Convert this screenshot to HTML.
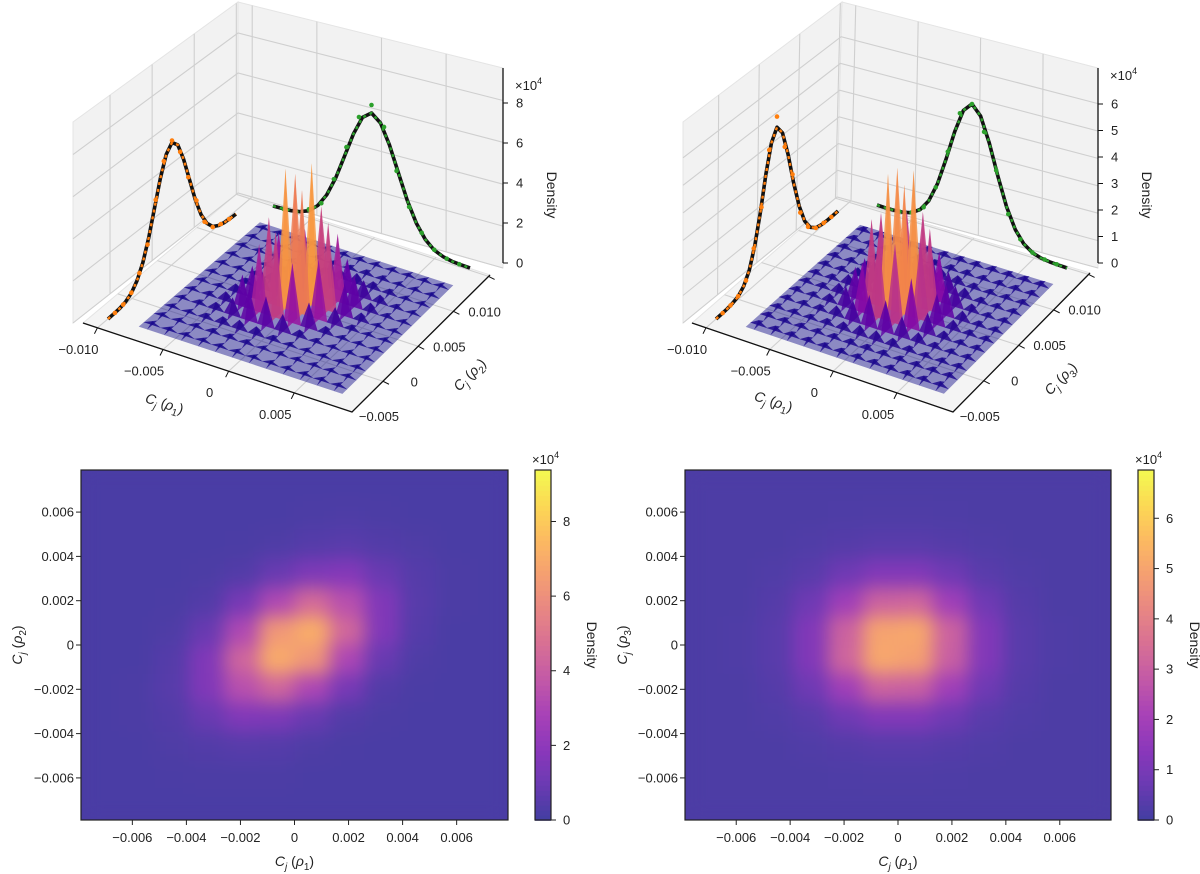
<!DOCTYPE html>
<html><head><meta charset="utf-8">
<style>
html,body{margin:0;padding:0;background:#fff;}
svg{display:block;font-family:"Liberation Sans",sans-serif;}
text{fill:#222;}
</style></head>
<body>
<svg id="fig" width="1200" height="874" viewBox="0 0 1200 874" xmlns="http://www.w3.org/2000/svg">
<defs>
<filter id="blurHm" filterUnits="userSpaceOnUse" x="0" y="400" width="1200" height="474" color-interpolation-filters="sRGB"><feGaussianBlur stdDeviation="9"/></filter>
<clipPath id="clipL"><rect x="81" y="470" width="427" height="350"/></clipPath>
<clipPath id="clipR"><rect x="685" y="470" width="426" height="350"/></clipPath>
</defs>
</svg>
<script>
// ---------- DATA ----------
const hmX = [-7.15,-5.85,-4.55,-3.25,-1.95,-0.65,0.65,1.95,3.25,4.55,5.85,7.15]; // bin centers (x1e-3)
const hmY = [7.15,5.85,4.55,3.25,1.95,0.65,-0.65,-1.95,-3.25,-4.55,-5.85,-7.15];
const hmLeft = [
 [0.2,0.2,0.2,0.2,0.2,0.2,0.2,0.2,0.2,0.2,0.2,0.2],
 [0.2,0.2,0.2,0.2,0.2,0.2,0.25,0.28,0.25,0.2,0.2,0.2],
 [0.2,0.2,0.2,0.2,0.22,0.3,0.45,0.55,0.4,0.3,0.2,0.2],
 [0.2,0.2,0.2,0.25,0.4,0.9,1.5,1.7,0.9,0.45,0.25,0.2],
 [0.2,0.2,0.22,0.4,1.3,3.1,4.5,3.4,1.6,0.5,0.25,0.2],
 [0.2,0.2,0.3,0.9,3.1,6.3,7.1,4.4,1.6,0.45,0.2,0.2],
 [0.2,0.2,0.45,1.6,4.3,7.0,6.2,3.0,0.9,0.3,0.2,0.2],
 [0.2,0.25,0.5,1.6,3.4,4.3,3.0,1.3,0.4,0.22,0.2,0.2],
 [0.2,0.25,0.4,0.9,1.6,1.5,0.9,0.4,0.25,0.2,0.2,0.2],
 [0.2,0.2,0.3,0.4,0.5,0.45,0.3,0.22,0.2,0.2,0.2,0.2],
 [0.2,0.2,0.22,0.25,0.25,0.25,0.2,0.2,0.2,0.2,0.2,0.2],
 [0.2,0.2,0.2,0.2,0.2,0.2,0.2,0.2,0.2,0.2,0.2,0.2]
];
const hmRight = [
 [0.2,0.2,0.2,0.2,0.2,0.2,0.2,0.2,0.2,0.2,0.2,0.2],
 [0.2,0.2,0.2,0.2,0.22,0.23,0.23,0.22,0.2,0.2,0.2,0.2],
 [0.2,0.2,0.2,0.25,0.33,0.4,0.4,0.33,0.25,0.2,0.2,0.2],
 [0.2,0.2,0.25,0.4,0.8,1.2,1.2,0.8,0.4,0.25,0.2,0.2],
 [0.2,0.2,0.33,0.8,1.9,3.1,3.2,1.9,0.8,0.33,0.2,0.2],
 [0.2,0.23,0.4,1.2,3.1,5.0,5.1,3.1,1.2,0.4,0.23,0.2],
 [0.2,0.23,0.4,1.2,3.2,5.1,4.9,3.0,1.2,0.4,0.23,0.2],
 [0.2,0.2,0.33,0.8,1.9,3.1,3.0,1.9,0.8,0.33,0.2,0.2],
 [0.2,0.2,0.25,0.4,0.8,1.2,1.2,0.8,0.4,0.25,0.2,0.2],
 [0.2,0.2,0.2,0.25,0.33,0.4,0.4,0.33,0.25,0.2,0.2,0.2],
 [0.2,0.2,0.2,0.2,0.22,0.23,0.23,0.22,0.2,0.2,0.2,0.2],
 [0.2,0.2,0.2,0.2,0.2,0.2,0.2,0.2,0.2,0.2,0.2,0.2]
];
const hmTicks = [-6,-4,-2,0,2,4,6];
const hmTickLabels = ["\u22120.006","\u22120.004","\u22120.002","0","0.002","0.004","0.006"];
const cbTicksLeft = [0,2,4,6,8];
const cbTicksRight = [0,1,2,3,4,5,6];

const margC = [-5.5,-5,-4.5,-4,-3.5,-3,-2.5,-2,-1.5,-1,-0.5,0,0.5,1,1.5,2,2.5,3,3.5,4,4.5,5,5.5];
const curveOrangeL = [0,0.02,0.05,0.14,0.33,0.73,1.40,2.39,3.63,4.89,5.84,6.2,5.84,4.89,3.63,2.39,1.40,0.73,0.33,0.14,0.05,0.02,0];
const curveGreenL  = [0,0.02,0.05,0.14,0.33,0.73,1.40,2.39,3.63,4.89,5.84,6.2,5.84,4.89,3.63,2.39,1.40,0.73,0.33,0.14,0.05,0.02,0];
const curveOrangeR = [0,0,0.01,0.04,0.11,0.31,0.73,1.48,2.55,3.8,4.8,5.2,4.8,3.8,2.55,1.48,0.73,0.31,0.11,0.04,0.01,0,0];
const curveGreenR  = [0,0,0.015,0.05,0.14,0.37,0.81,1.56,2.6,3.74,4.65,5.0,4.65,3.74,2.6,1.56,0.81,0.37,0.14,0.05,0.015,0,0];
const dotC = [-4.9,-4.2,-3.5,-2.8,-2.1,-1.4,-0.7,0,0.7,1.4,2.1,2.8,3.5,4.2,4.9];
const dotsOrangeL = [0.02,0.1,0.35,1.0,2.1,4.0,5.6,6.3,5.4,3.8,2.3,0.9,0.3,0.12,0.03];
const dotsGreenL  = [0.02,0.08,0.4,0.9,2.3,4.1,5.8,6.6,5.7,3.7,2.1,1.0,0.35,0.1,0.02];
const dotsOrangeR = [0.0,0.03,0.12,0.45,1.4,2.7,4.6,5.6,4.2,2.9,1.2,0.4,0.1,0.03,0.0];
const dotsGreenR  = [0.0,0.03,0.15,0.5,1.4,2.9,4.5,5.0,4.1,2.8,1.3,0.5,0.15,0.04,0.01];
const zTicksLeft = [0,2,4,6,8];
const zTicksRight = [0,1,2,3,4,5,6];
const xTicks3d = [-10,-5,0,5];
const xTickLabels3d = ["\u22120.010","\u22120.005","0","0.005"];
const yTicks3d = [-5,0,5,10];
const yTickLabels3d = ["\u22120.005","0","0.005","0.010"];

// ---------- HELPERS ----------
const NS="http://www.w3.org/2000/svg";
const svg=document.getElementById('fig');
function mk(tag,attrs,parent){const e=document.createElementNS(NS,tag);for(const k in attrs)e.setAttribute(k,attrs[k]);(parent||svg).appendChild(e);return e;}
const pStops=[[13,8,135],[65,4,157],[106,0,168],[143,13,164],[177,42,144],[204,71,120],[225,100,98],[242,132,75],[252,166,54],[252,206,37],[240,249,33]];
function plasma(t){t=Math.max(0,Math.min(1,t));const f=t*10,i=Math.min(9,Math.floor(f)),r=f-i;const a=pStops[i],b=pStops[i+1];
 return 'rgb('+Math.round(a[0]+(b[0]-a[0])*r)+','+Math.round(a[1]+(b[1]-a[1])*r)+','+Math.round(a[2]+(b[2]-a[2])*r)+')';}
function txt(x,y,s,attrs,parent){const t=mk('text',Object.assign({x:x,y:y},attrs||{}),parent);t.textContent=s;return t;}
function cjLabel(parent,x,y,sub,rot,anchor){
 const t=mk('text',{x:x,y:y,'font-size':14,'text-anchor':anchor||'middle',transform:rot?('rotate('+rot+' '+x+' '+y+')'):''},parent);
 const a=mk('tspan',{'font-style':'italic'},t);a.textContent='C';
 const b=mk('tspan',{'font-style':'italic','font-size':10,dy:4},t);b.textContent='j';
 const c=mk('tspan',{dy:-4},t);c.textContent=' (';
 const d=mk('tspan',{'font-style':'italic'},t);d.textContent='\u03C1';
 const e=mk('tspan',{'font-size':10,dy:4},t);e.textContent=sub;
 const f=mk('tspan',{dy:-4},t);f.textContent=')';
 return t;
}
function exp10(parent,x,y){const t=mk('text',{x:x,y:y,'font-size':13},parent);t.textContent='\u00D710';const s=mk('tspan',{'font-size':9,dy:-6},t);s.textContent='4';return t;}

// ---------- HEATMAPS ----------
function heatmap(name,data,x0,x1,y0,y1,clip,vmax,cbx,cbTicks,ylabSub,ylabX,tickLabX){
 const g=mk('g',{});
 
 
 const sx=v=>x0+(v+7.9)/15.8*(x1-x0);
 const sy=v=>y1-(v+7.9)/15.8*(y1-y0);
 const cg=mk('g',{'clip-path':'url(#'+clip+')',opacity:0.78},g);
 const bg=mk('rect',{x:x0,y:y0,width:x1-x0,height:y1-y0,fill:plasma(0.2/vmax)},cg);
 
 
 const cells=mk('g',{filter:'url(#blurHm)'},cg);
 for(let r=0;r<hmY.length;r++)for(let c=0;c<hmX.length;c++){
  const v=data[r][c];
  const rc=mk('rect',{x:sx(hmX[c]-0.65),y:sy(hmY[r]+0.65),width:sx(hmX[c]+0.65)-sx(hmX[c]-0.65)+0.5,height:sy(hmY[r]-0.65)-sy(hmY[r]+0.65)+0.5,fill:plasma(v/vmax)},cells);
  
  
 }
 const fr=mk('rect',{x:x0,y:y0,width:x1-x0,height:y1-y0,fill:'none',stroke:'#222','stroke-width':1.2},g);
 
 
 hmTicks.forEach((t,i)=>{
  mk('line',{x1:sx(t),x2:sx(t),y1:y1,y2:y1+5,stroke:'#222'},g);
  const xl=txt(sx(t),y1+22,hmTickLabels[i],{'font-size':13,'text-anchor':'middle'},g);
  
  
  mk('line',{x1:x0-5,x2:x0,y1:sy(t),y2:sy(t),stroke:'#222'},g);
  const yl=txt(tickLabX,sy(t)+4.5,hmTickLabels[i],{'font-size':13,'text-anchor':'end'},g);
  
  
 });
 const xlab=cjLabel(g,(x0+x1)/2,y1+46,'1',0);
 
 
 const ylab=cjLabel(g,ylabX,(y0+y1)/2,ylabSub,-90);
 
 
 const cb=mk('g',{},g);
 
 
 const cmax=vmax;
 const cy=v=>y1-v/cmax*(y1-y0);
 const N=70;
 const cbg=mk('g',{opacity:0.78},cb);
 for(let i=0;i<N;i++){
  const a=i/N*cmax,b=(i+1)/N*cmax;
  mk('rect',{x:cbx,y:cy(b),width:16,height:cy(a)-cy(b)+0.8,fill:plasma((a+b)/2/cmax)},cbg);
 }
 mk('rect',{x:cbx,y:y0,width:16,height:y1-y0,fill:'none',stroke:'#222','stroke-width':1.2},cb);
 cbTicks.forEach(t=>{
  mk('line',{x1:cbx+16,x2:cbx+21,y1:cy(t),y2:cy(t),stroke:'#222'},cb);
  const l=txt(cbx+28,cy(t)+4.5,String(t),{'font-size':13},cb);
  
  
 });
 const e=exp10(cb,cbx-3,y0-6);
 
 
 const dl=txt(cbx+52,(y0+y1)/2,'Density',{'font-size':14,'text-anchor':'middle',transform:'rotate(90 '+(cbx+52)+' '+((y0+y1)/2)+')'},cb);
 
 
}
heatmap('heatmap-rho1-rho2',hmLeft,81,508,470,820,'clipL',9.38,535,cbTicksLeft,'2',22,74);
heatmap('heatmap-rho1-rho3',hmRight,685,1111,470,820,'clipR',6.96,1138,cbTicksRight,'3',627,678);

// ---------- 3D PLOTS ----------
function plot3d(cfg){
 const g=mk('g',{});
 
 
 const {L,F,R,B,Lp,Ltop,Btop,Rtop,Rp}=cfg;
 const xr=[-11.1,9.4], yr=[-9.4,10.2];
 const P=(x,y)=>{const u=(x-xr[0])/(xr[1]-xr[0]),v=(y-yr[0])/(yr[1]-yr[0]);
  return [L[0]*(1-u)*(1-v)+F[0]*u*(1-v)+R[0]*u*v+B[0]*(1-u)*v, L[1]*(1-u)*(1-v)+F[1]*u*(1-v)+R[1]*u*v+B[1]*(1-u)*v];};
 const pts=a=>a.map(p=>p[0].toFixed(1)+','+p[1].toFixed(1)).join(' ');
 const lerp=(a,b,t)=>[a[0]+(b[0]-a[0])*t,a[1]+(b[1]-a[1])*t];
 const lp=mk('polygon',{points:pts([Lp,B,Btop,Ltop]),fill:'#f2f2f2',stroke:'#e4e4e4'},g);
 
 
 const bp=mk('polygon',{points:pts([B,Rp,Rtop,Btop]),fill:'#f2f2f2',stroke:'#e4e4e4'},g);
 
 
 const fp=mk('polygon',{points:pts([L,B,R,F]),fill:'#f4f4f4',stroke:'#e4e4e4'},g);
 
 
 const gs={stroke:'#cfcfcf','stroke-width':1.1};
 const zTop=cfg.zTop;
 cfg.zTicks.forEach(z=>{
  const f=z/zTop;
  const a=lerp(Lp,Ltop,f),b=lerp(B,Btop,f),c=lerp(Rp,Rtop,f);
  mk('polyline',Object.assign({points:pts([a,b,c]),fill:'none'},gs),g);
 });
 yTicks3d.forEach(y=>{
  const v=(y-yr[0])/(yr[1]-yr[0]);
  const bot=lerp(Lp,B,v),top=lerp(Ltop,Btop,v);
  mk('line',Object.assign({x1:bot[0],y1:bot[1],x2:top[0],y2:top[1]},gs),g);
  const a=P(xr[0],y),b=P(xr[1],y);
  mk('line',Object.assign({x1:a[0],y1:a[1],x2:b[0],y2:b[1]},gs),g);
 });
 xTicks3d.forEach(x=>{
  const u=(x-xr[0])/(xr[1]-xr[0]);
  const bot=lerp(B,Rp,u),top=lerp(Btop,Rtop,u);
  mk('line',Object.assign({x1:bot[0],y1:bot[1],x2:top[0],y2:top[1]},gs),g);
  const a=P(x,yr[0]),b=P(x,yr[1]);
  mk('line',Object.assign({x1:a[0],y1:a[1],x2:b[0],y2:b[1]},gs),g);
 });
 const base=mk('polygon',{points:pts([P(-7.8,-7.8),P(7.8,-7.8),P(7.8,7.8),P(-7.8,7.8)]),fill:'rgb(13,8,135)','fill-opacity':0.45},g);
 
 
 function marg(name,S,E,cs,ds,dc,dd,color){
  const mg=mk('g',{},g);
  
  
  const map=(c,d)=>{const t=(c-margC[0])/(margC[margC.length-1]-margC[0]);return [S[0]+(E[0]-S[0])*t,S[1]+(E[1]-S[1])*t-d*cfg.zs];};
  const line=cs.map((c,i)=>map(c,ds[i]));
  const k=mk('polyline',{points:pts(line),fill:'none',stroke:'#111','stroke-width':3.6,'stroke-linejoin':'round'},mg);
  
  
  const d=mk('polyline',{points:pts(line),fill:'none',stroke:color,'stroke-width':2.4,'stroke-dasharray':'3 4'},mg);
  
  
  dc.forEach((c,i)=>{const p=map(c,dd[i]);
   const dot=mk('circle',{cx:p[0],cy:p[1],r:2.3,fill:color},mg);
   
   });
 }
 marg('marginal-rho1',cfg.oS,cfg.oE,margC,cfg.oCurve,dotC,cfg.oDots,'#ff7f0e');
 marg('marginal-other',cfg.gS,cfg.gE,margC,cfg.gCurve,dotC,cfg.gDots,'#2ca02c');
 const spikes=[];
 for(let r=0;r<hmY.length;r++)for(let c=0;c<hmX.length;c++){
  const x=hmX[c],y=hmY[r];
  spikes.push({x:x,y:y,v:cfg.data[r][c],o:(x-xr[0])/(xr[1]-xr[0])-(y-yr[0])/(yr[1]-yr[0])});
 }
 spikes.sort((a,b)=>a.o-b.o);
 const sg=mk('g',{},g);
 
 
 const hw=0.68;
 spikes.forEach(s=>{
  const c0=P(s.x,s.y),apex=[c0[0],c0[1]-s.v*cfg.zs];
  const col=plasma(s.v/cfg.vmax);
  const t1=mk('polygon',{points:pts([P(s.x-hw,s.y),apex,P(s.x+hw,s.y)]),fill:col,'fill-opacity':0.85},sg);
  
  
  const t2=mk('polygon',{points:pts([P(s.x,s.y+hw),apex,P(s.x,s.y-hw)]),fill:col,'fill-opacity':0.8},sg);
  
  
 });
 const ax=mk('polyline',{points:pts([L,F,R]),fill:'none',stroke:'#111','stroke-width':1.3},g);
 
 
 xTicks3d.forEach((x,i)=>{
  const p=P(x,yr[0]);
  mk('line',{x1:p[0],y1:p[1],x2:p[0]-3,y2:p[1]+6,stroke:'#111'},g);
  const t=txt(p[0]-19,p[1]+26,xTickLabels3d[i],{'font-size':13,'text-anchor':'middle'},g);
  
  
 });
 yTicks3d.forEach((y,i)=>{
  const p=P(xr[1],y);
  mk('line',{x1:p[0],y1:p[1],x2:p[0]+6,y2:p[1]+3,stroke:'#111'},g);
  const t=txt(p[0]-4,p[1]+40,yTickLabels3d[i],{'font-size':13,'text-anchor':'middle'},g);
  
  
 });
 const zx=cfg.zAxisX, z0=cfg.z0;
 const za=mk('line',{x1:zx,y1:z0,x2:zx,y2:Rtop[1],stroke:'#111','stroke-width':1.3},g);
 
 
 cfg.zTicks.forEach(z=>{
  const y=z0-z*cfg.zs;
  mk('line',{x1:zx,y1:y,x2:zx+5,y2:y,stroke:'#111'},g);
  const t=txt(zx+13,y+4.5,String(z),{'font-size':13},g);
  
  
 });
 const e=exp10(g,zx+12,cfg.expY);
 
 
 const dl=txt(zx+44,195,'Density',{'font-size':14,'text-anchor':'middle',transform:'rotate(90 '+(zx+44)+' 195)'},g);
 
 
 const xl=cjLabel(g,cfg.xLab[0],cfg.xLab[1],'1',18);
 
 
 const yl=cjLabel(g,cfg.yLab[0],cfg.yLab[1],cfg.ySub,-45);
 
 
}
plot3d({name:'surface-3d-rho1-rho2',L:[83,323],F:[352,412],R:[490,275],B:[238,193],Lp:[73,323],Ltop:[73,122],Btop:[238,2],Rtop:[503,68],Rp:[503,268],
 zTop:9.55,zs:20,zTicks:zTicksLeft,data:hmLeft,vmax:9.38,
 oS:[108,319],oE:[236,214],oCurve:curveOrangeL,oDots:dotsOrangeL,
 gS:[273,206],gE:[470,268],gCurve:curveGreenL,gDots:dotsGreenL,
 zAxisX:503,z0:263,expY:90,xLab:[163,408],yLab:[473,378],ySub:'2'});
plot3d({name:'surface-3d-rho1-rho3',L:[692,323],F:[953,412],R:[1090,273],B:[837,197],Lp:[683,323],Ltop:[683,122],Btop:[842,2],Rtop:[1098,68],Rp:[1098,268],
 zTop:7.3,zs:26.5,zTicks:zTicksRight,data:hmRight,vmax:6.96,
 oS:[716,319],oE:[838,211],oCurve:curveOrangeR,oDots:dotsOrangeR,
 gS:[877,205],gE:[1067,268],gCurve:curveGreenR,gDots:dotsGreenR,
 zAxisX:1098,z0:263,expY:80,xLab:[772,406],yLab:[1064,382],ySub:'3'});
</script>
</body></html>
